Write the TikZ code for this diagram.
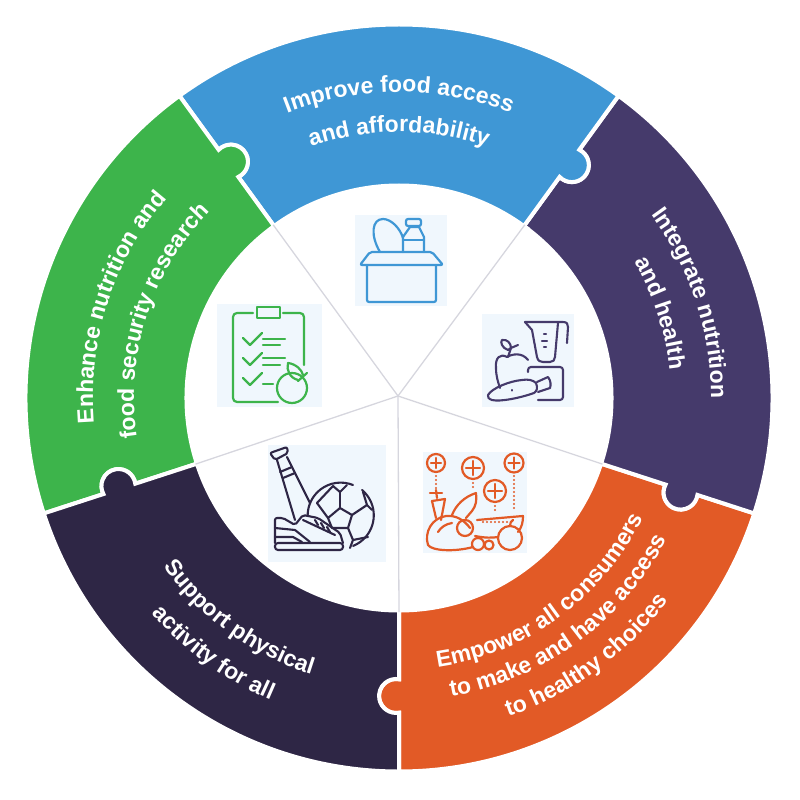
\documentclass[tikz,border=0pt]{standalone}
\usepackage{fontspec}
\setmainfont{Liberation Sans}
\usepackage{xcolor}
\usetikzlibrary{decorations.text}
\definecolor{accessblue}{HTML}{3F97D5}
\definecolor{healthpurple}{HTML}{453A6B}
\definecolor{empowerorange}{HTML}{E25A26}
\definecolor{activitydark}{HTML}{2E2645}
\definecolor{researchgreen}{HTML}{3DB44B}
\definecolor{iconback}{HTML}{F0F7FD}
\definecolor{spokegrey}{HTML}{D6D6DE}
\newcommand{\ringfont}{\color{white}\bfseries\fontsize{23}{23}\selectfont}
\tikzstyle{piece} = [draw=white, line width=4pt, line join=miter]
\tikzstyle{spoke} = [draw=spokegrey, line width=1.3pt]
\tikzstyle{ringtext} = [decorate, decoration={text along path, text align=center}]
\tikzstyle{iconline} = [line width=2.2pt, line cap=round, line join=round]
\tikzstyle{iconthin} = [line width=2.1pt, line cap=round, line join=round]

\begin{document}
\begin{tikzpicture}[x=1pt, y=1pt]
    \useasboundingbox (-399,-402) rectangle (401,398);

    % Ring pieces
    \foreach \rot/\col/\low/\high in {0/empowerorange/298/297, 72/healthpurple/297/290, 144/accessblue/290/290, 216/researchgreen/290/294, 288/activitydark/294/298} {
        \begin{scope}[rotate=\rot]
            \path [piece, fill=\col] (270:212.5) -- (0,-\low+16.7)
                arc[start angle=80, end angle=280, radius=17]
                -- (270:373.5) arc[start angle=270, end angle=342, radius=373.5]
                -- (342:\high+16.7) arc[start angle=352, end angle=152, radius=17]
                -- (342:212.5) arc[start angle=342, end angle=270, radius=212.5] -- cycle;
        \end{scope}
    }

    % Spokes
    \coordinate (hub) at (-1,2);
    \foreach \ang in {54, 126, 198, 270, 342} {
        \coordinate (rim\ang) at (\ang:214);
        \draw [spoke] (hub) -- (rim\ang);
    }

    % Curved labels
    \path [ringtext, decoration={text={|\ringfont|Improve food access}}] (150:306) arc[start angle=150, end angle=30, radius=306];
    \path [ringtext, decoration={text={|\ringfont|and affordability}}] (150:266) arc[start angle=150, end angle=30, radius=266];

    \path [ringtext, decoration={text={|\ringfont|Integrate nutrition}}] (78:312) arc[start angle=78, end angle=-42, radius=312];
    \path [ringtext, decoration={text={|\ringfont|and health}}] (78:272) arc[start angle=78, end angle=-42, radius=272];

    \path [ringtext, decoration={text={|\ringfont|Empower all consumers}}] (-114:272) arc[start angle=-114, end angle=6, radius=272];
    \path [ringtext, decoration={text={|\ringfont|to make and have access}}] (-114:303) arc[start angle=-114, end angle=6, radius=303];
    \path [ringtext, decoration={text={|\ringfont|to healthy choices}}] (-114:337) arc[start angle=-114, end angle=6, radius=337];

    \path [ringtext, decoration={text={|\ringfont|Support physical}}] (174:290) arc[start angle=174, end angle=294, radius=290];
    \path [ringtext, decoration={text={|\ringfont|activity for all}}] (174:328) arc[start angle=174, end angle=294, radius=328];

    \path [ringtext, decoration={text={|\ringfont|Enhance nutrition and}}] (222:306) arc[start angle=222, end angle=102, radius=306];
    \path [ringtext, decoration={text={|\ringfont|food security research}}] (222:265) arc[start angle=222, end angle=102, radius=265];

    % Icons, in the pixel grid of the picture
    \begin{scope}[shift={(-399,398)}, yscale=-1]
        % Food box
        \fill [iconback] (355,215) rectangle (447,306);
        \begin{scope}[iconline, draw=accessblue]
            \draw [rounded corners=2pt] (367,265) -- (367,302) -- (436,302) -- (436,265);
            \draw [rounded corners=2pt] (360,265) -- (370,252) -- (432,252) -- (443,265) -- cycle;
            \draw (380,252) .. controls (370,235) and (372,219) .. (383,219) .. controls (391,219) and (400,228) .. (403,238);
            \draw (403,252) -- (403,237) -- (410,227) -- (419,227) -- (424,237) -- (424,252);
            \draw (403,240) -- (424,240);
            \draw [rounded corners=2pt] (406,219) rectangle (421,226);
        \end{scope}

        % Blender, apple and carrot
        \fill [iconback] (482,314) rectangle (574,407);
        \begin{scope}[iconthin, draw=healthpurple]
            \draw (525,322) -- (563,322) .. controls (567,322) and (568,324) .. (568,327) -- (567,343);
            \draw (525,322) -- (532,330) -- (537,357) .. controls (538,361) and (540,362) .. (543,362) -- (550,362) .. controls (553,362) and (555,360) .. (555,357) -- (558,323);
            \draw (544,334) -- (546,334);
            \draw (542,341) -- (547,341);
            \draw (544,347) -- (546,347);
            \draw [rounded corners=3pt] (528,372) -- (528,367) -- (563,367) -- (563,400) -- (538,400);
            \draw (528,360) .. controls (522,352) and (512,354) .. (507,357) .. controls (500,353) and (495,358) .. (496,368) .. controls (496,376) and (498,382) .. (500,388);
            \draw (508,350) .. controls (502,348) and (500,342) .. (502,340) .. controls (507,339) and (511,343) .. (511,348) -- cycle;
            \draw (508,357) -- (511,348) -- (518,345);
            \draw (488,395) .. controls (492,388) and (510,381) .. (522,380) .. controls (528,379) and (533,380) .. (536,383) .. controls (538,388) and (537,391) .. (534,393) .. controls (520,398) and (500,402) .. (492,400) .. controls (489,399) and (487,397) .. (488,395) -- cycle;
            \draw (537,382) -- (548,377) .. controls (551,381) and (551,385) .. (550,388) -- (538,392);
            \draw (512,390) -- (512,390.5);
        \end{scope}

        % Checklist and orange
        \fill [iconback] (217,304) rectangle (322,407);
        \begin{scope}[iconline, draw=researchgreen]
            \draw [rounded corners=4pt] (253,313) -- (233,313) -- (233,402) -- (278,402);
            \draw [rounded corners=4pt] (283,313) -- (304,313) -- (304,365);
            \draw (257,307) rectangle (280,318);
            \draw (243,338) -- (250,345) -- (262,333);
            \draw (243,358) -- (250,365) -- (262,353);
            \draw (243,378) -- (250,385) -- (262,373);
            \draw (263,339) -- (285,339);
            \draw (263,345) -- (280,345);
            \draw (263,358) -- (285,358);
            \draw (263,365) -- (280,365);
            \draw (263,384) -- (273,384);
            \draw (292,388) circle (15);
            \draw (298,380) .. controls (290,378) and (286,370) .. (288,363) .. controls (296,364) and (302,370) .. (303,375);
            \draw (307,373) -- (298,381);
        \end{scope}

        % Ball, bat and shoe
        \fill [iconback] (268,445) rectangle (386,562);
        \begin{scope}[iconthin, draw=activitydark]
            \draw (277,460) -- (295,520);
            \draw (287,457) -- (310,503);
            \draw [rounded corners=2pt] (270,453) -- (287,447) -- (288,453) -- (275,460) -- cycle;
            \draw (280,472) -- (292,467);
            \draw (283,478) -- (295,473);
            \draw (353,485) arc[start angle=-68, end angle=-180, radius=33];
            \draw (362,490) arc[start angle=-50, end angle=68, radius=33];
            \draw (328,518) -- (340,508) -- (352,515) -- (348,528) -- (332,528) -- cycle;
            \draw (333,486) -- (340,492) -- (347,485);
            \draw (340,508) -- (340,492);
            \draw (352,515) -- (367,505) -- (363,492);
            \draw (367,505) -- (372,510);
            \draw (348,528) -- (353,540) -- (368,537);
            \draw (353,540) -- (350,548);
            \draw (333,486) -- (317,503) -- (328,518);
            \draw [rounded corners=3pt] (275,543) rectangle (343,550);
            \draw [rounded corners=2pt] (275,543) -- (275,518) -- (283,518) -- (295,525) -- (303,515) -- (318,518) -- (340,533) -- (343,543);
            \draw (303,520) -- (335,535);
            \draw (275,528) -- (295,530) -- (310,542);
            \draw (275,537) -- (293,537) -- (302,542);
            \draw (315,520) -- (318,525);
            \draw (321,523) -- (324,528);
            \draw (327,527) -- (330,532);
        \end{scope}

        % Plus signs, bowl and food
        \fill [iconback] (423,452) rectangle (527,553);
        \begin{scope}[iconline, draw=empowerorange]
            \foreach \cx/\cy/\rad in {436/463/9, 473/468/11, 495/491/11, 514/463/9.5} {
                \draw (\cx,\cy) circle (\rad);
                \draw (\cx-\rad+4,\cy) -- (\cx+\rad-4,\cy);
                \draw (\cx,\cy-\rad+4) -- (\cx,\cy+\rad-4);
            }
            \draw [dash pattern=on 0pt off 4pt] (436,476) -- (436,488);
            \draw [dash pattern=on 0pt off 4pt] (473,483) -- (473,488);
            \draw [dash pattern=on 0pt off 4pt] (495,506) -- (495,511);
            \draw [dash pattern=on 0pt off 4pt] (514,476) -- (514,510);
            \draw [dash pattern=on 0pt off 4pt] (483,522) -- (510,522);
            \draw (430,493) -- (442,493);
            \draw (436,490) -- (437,498);
            \draw (432,501) -- (445,499) -- (441,520);
            \draw (432,501) -- (436,518);
            \draw (452,515) .. controls (456,505) and (464,497) .. (476,493) .. controls (477,500) and (476,506) .. (472,511) -- (466,518);
            \draw (428,545) .. controls (424,532) and (432,518) .. (446,516) .. controls (456,515) and (464,520) .. (470,528);
            \draw (428,545) .. controls (432,551) and (455,552) .. (473,547);
            \draw (438,532) .. controls (441,527) and (446,524) .. (452,523);
            \draw (465,528) circle (8);
            \draw (477,520) -- (523,516) .. controls (523,522) and (522,527) .. (518,532);
            \draw (475,536) .. controls (485,538) and (492,538) .. (498,537);
            \draw (510,538) circle (12);
            \draw (510,526) .. controls (510,523) and (511,521) .. (513,520);
            \draw (478,544) circle (6);
            \draw (489,545) circle (4.5);
        \end{scope}
    \end{scope}
\end{tikzpicture}
\end{document}
